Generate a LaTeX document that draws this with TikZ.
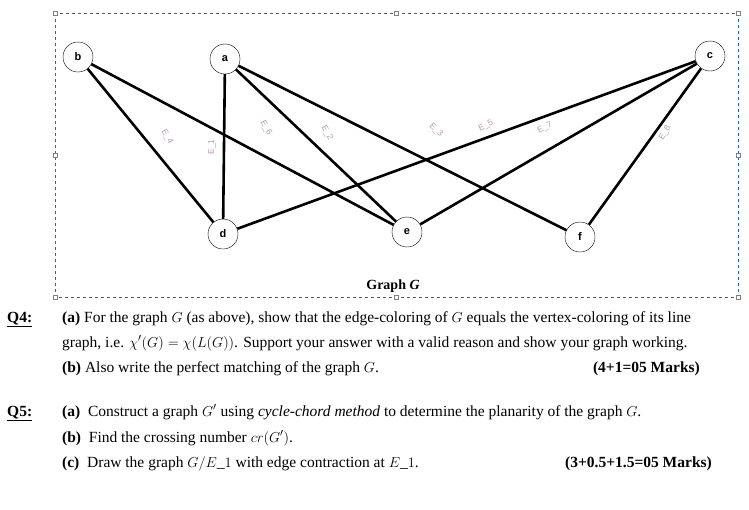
\documentclass[tikz,border=0pt]{standalone}
\usepackage{fontspec}
\setmainfont{Liberation Serif}
\newfontfamily\lsans{Liberation Sans}
\usetikzlibrary{backgrounds}
\begin{document}
\begin{tikzpicture}[x=1pt,y=-1pt,
  vtx/.style={circle,draw,thin,fill=white,minimum size=30pt,inner sep=0pt,font=\lsans\bfseries\fontsize{11}{12}\selectfont},
  edge/.style={line width=2.6pt},
  elab/.style={text=violet!30!gray!60,font=\lsans\fontsize{8.5}{9}\selectfont},
  handle/.style={draw=gray,fill=white,minimum size=4pt,inner sep=0pt,rectangle},
  txt/.style={anchor=base west,inner sep=0pt,font=\fontsize{15.5}{18}\selectfont}]
\useasboundingbox (0,0) rectangle (749,509);
\draw[dashed,blue!60!cyan,thin] (55,13) rectangle (738,297);
\foreach \p/\q in {55/13,396/13,738/13,55/155,738/155,55/297,396/297,738/297}
  \node[handle] at (\p,\q) {};
\node[vtx] (b) at (78,57) {b};
\node[vtx] (a) at (225,59) {a};
\node[vtx] (c) at (710,56) {c};
\node[vtx] (d) at (223,234) {d};
\node[vtx] (e) at (407,232) {e};
\node[vtx] (f) at (580,237) {f};
\begin{pgfonlayer}{background}
\draw[edge] (b) -- (d); \draw[edge] (b) -- (e);
\draw[edge] (a) -- (d); \draw[edge] (a) -- (e); \draw[edge] (a) -- (f);
\draw[edge] (c) -- (d); \draw[edge] (c) -- (e); \draw[edge] (c) -- (f);
\end{pgfonlayer}
\node[elab,rotate=-60] at (167,137) {E\_4};
\node[elab,rotate=90] at (212,147) {E\_1};
\node[elab,rotate=-60] at (266,128) {E\_6};
\node[elab,rotate=-60] at (327,133) {E\_2};
\node[elab,rotate=-45] at (436,130) {E\_3};
\node[elab,rotate=30] at (486,126) {E\_5};
\node[elab,rotate=30] at (545,128) {E\_7};
\node[elab,rotate=60] at (665,133) {E\_8};
\node[font=\bfseries\fontsize{14}{16}\selectfont] (cap) at (393,286) {Graph \textit{G}};
\node[txt,font=\bfseries\fontsize{15.5}{18}\selectfont] (q4) at (7,322) {\underline{Q4:}};
\node[txt] (l1) at (62,322) {\textbf{(a)} For the graph $G$ (as above), show that the edge-coloring of $G$ equals the vertex-coloring of its line};
\node[txt] (l2) at (62,347) {graph, i.e. $\chi'(G)=\chi(L(G))$. Support your answer with a valid reason and show your graph working.};
\node[txt] (l3) at (62,372) {\textbf{(b)} Also write the perfect matching of the graph $G$.};
\node[txt,anchor=base east,font=\bfseries\fontsize{15.5}{18}\selectfont] (m1) at (700,372) {(4+1=05 Marks)};
\node[txt,font=\bfseries\fontsize{15.5}{18}\selectfont] (q5) at (7,416) {\underline{Q5:}};
\node[txt] (k1) at (62,416) {\textbf{(a)}\ \ Construct a graph $G'$ using \textit{cycle-chord method} to determine the planarity of the graph $G$.};
\node[txt] (k2) at (62,442) {\textbf{(b)}\ \ Find the crossing number $cr(G')$.};
\node[txt] (k3) at (62,467) {\textbf{(c)}\ \ Draw the graph $G/E\_1$ with edge contraction at $E\_1$.};
\node[txt,anchor=base east,font=\bfseries\fontsize{15.5}{18}\selectfont] (m2) at (712,467) {(3+0.5+1.5=05 Marks)};
\end{tikzpicture}
\end{document}
